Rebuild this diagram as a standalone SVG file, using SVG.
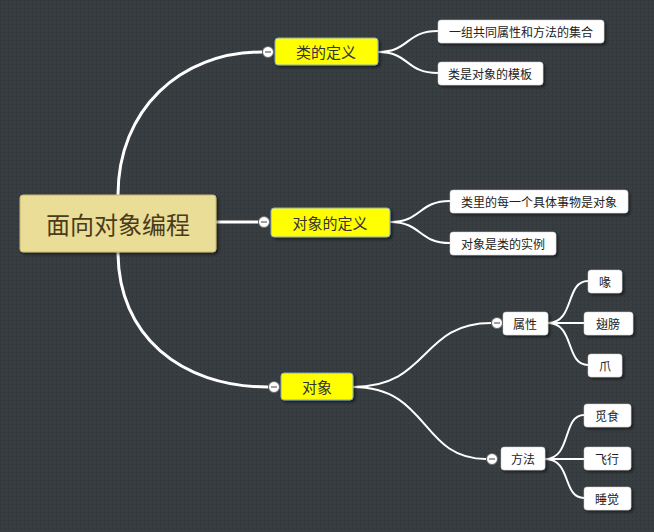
<svg xmlns="http://www.w3.org/2000/svg" width="654" height="532" viewBox="0 0 654 532">
<defs>
<pattern id="dots" width="4" height="4" patternUnits="userSpaceOnUse"><rect width="4" height="4" fill="#373d41"/><rect width="1" height="1" fill="#2c3134"/></pattern>
<filter id="sh" x="-10%" y="-10%" width="130%" height="140%"><feDropShadow dx="2" dy="2" stdDeviation="1.5" flood-color="#000" flood-opacity="0.5"/></filter>
<style>
.c{fill:none;stroke:#fff;stroke-width:2}
.m{stroke-width:3}
.leaf{fill:#fff;stroke:#ccc;stroke-width:0.5;filter:url(#sh)}
.l1{fill:#ffff00;stroke:#8ab;stroke-width:1;filter:url(#sh)}
.t{font-family:"Noto Sans CJK SC",sans-serif;text-anchor:middle;dominant-baseline:central;fill:#222}
.tl{font-size:12px}
.t1{font-size:15px;fill:#333}
.btn{fill:#fff;stroke:#666;stroke-width:1}
</style>
</defs>
<rect width="654" height="532" fill="url(#dots)"/>
<g id="connectors">
<path class="c m" d="M118,195 C118,110 180,52 262,52"/>
<path class="c m" d="M216,222 L258,222"/>
<path class="c m" d="M118,252 C118,335 180,387 268,387"/>
<path class="c" d="M378,52 C410,52 405,31 438,31"/>
<path class="c" d="M378,52 C410,52 405,73 438,73"/>
<path class="c" d="M390,222 C422,222 418,201 450,201"/>
<path class="c" d="M390,222 C422,222 418,243 450,243"/>
<path class="c" d="M353,387 C430,387 420,323 491,323"/>
<path class="c" d="M353,387 C430,387 420,459 486,459"/>
<path class="c" d="M548,323 C575,323 565,281 588,281"/>
<path class="c" d="M548,323 L584,323"/>
<path class="c" d="M548,323 C575,323 565,365 588,365"/>
<path class="c" d="M545,459 C572,459 562,415 584,415"/>
<path class="c" d="M545,459 L584,459"/>
<path class="c" d="M545,459 C572,459 562,498 584,498"/>
</g>
<g id="root"><rect x="20" y="195" width="196" height="57" rx="3" fill="#e9dd97" stroke="#c8b870" filter="url(#sh)"/><text class="t" x="118" y="223" font-size="24" style="fill:#4a3b1a">面向对象编程</text></g>
<g id="n1"><rect class="l1" x="275" y="38" width="103" height="27" rx="3"/><text class="t t1" x="326" y="51">类的定义</text><circle class="btn" cx="268" cy="52" r="5.5"/><path d="M265,52h6" stroke="#444"/></g>
<g id="n2"><rect class="l1" x="271" y="208" width="119" height="29" rx="3"/><text class="t t1" x="330" y="222">对象的定义</text><circle class="btn" cx="264" cy="222" r="5.5"/><path d="M261,222h6" stroke="#444"/></g>
<g id="n3"><rect class="l1" x="281" y="373" width="72" height="27" rx="3"/><text class="t t1" x="317" y="386">对象</text><circle class="btn" cx="274" cy="387" r="5.5"/><path d="M271,387h6" stroke="#444"/></g>
<g id="a1"><rect class="leaf" x="438" y="20" width="166" height="23" rx="3"/><text class="t tl" x="521" y="31">一组共同属性和方法的集合</text></g>
<g id="a2"><rect class="leaf" x="438" y="62" width="105" height="23" rx="3"/><text class="t tl" x="490" y="73">类是对象的模板</text></g>
<g id="b1"><rect class="leaf" x="450" y="190" width="178" height="23" rx="3"/><text class="t tl" x="539" y="201">类里的每一个具体事物是对象</text></g>
<g id="b2"><rect class="leaf" x="450" y="232" width="106" height="23" rx="3"/><text class="t tl" x="503" y="243">对象是类的实例</text></g>
<g id="c1"><rect class="leaf" x="503" y="312" width="45" height="23" rx="3"/><text class="t tl" x="525" y="323">属性</text><circle class="btn" cx="497" cy="323" r="5.5"/><path d="M494,323h6" stroke="#444"/></g>
<g id="c2"><rect class="leaf" x="501" y="447" width="44" height="23" rx="3"/><text class="t tl" x="523" y="458">方法</text><circle class="btn" cx="492" cy="459" r="5.5"/><path d="M489,459h6" stroke="#444"/></g>
<g id="d1"><rect class="leaf" x="588" y="270" width="34" height="23" rx="3"/><text class="t tl" x="605" y="281">喙</text></g>
<g id="d2"><rect class="leaf" x="584" y="312" width="49" height="23" rx="3"/><text class="t tl" x="608" y="323">翅膀</text></g>
<g id="d3"><rect class="leaf" x="588" y="354" width="34" height="23" rx="3"/><text class="t tl" x="605" y="365">爪</text></g>
<g id="e1"><rect class="leaf" x="584" y="404" width="47" height="23" rx="3"/><text class="t tl" x="607" y="415">觅食</text></g>
<g id="e2"><rect class="leaf" x="584" y="447" width="47" height="23" rx="3"/><text class="t tl" x="607" y="458">飞行</text></g>
<g id="e3"><rect class="leaf" x="584" y="487" width="47" height="23" rx="3"/><text class="t tl" x="607" y="498">睡觉</text></g>
</svg>
